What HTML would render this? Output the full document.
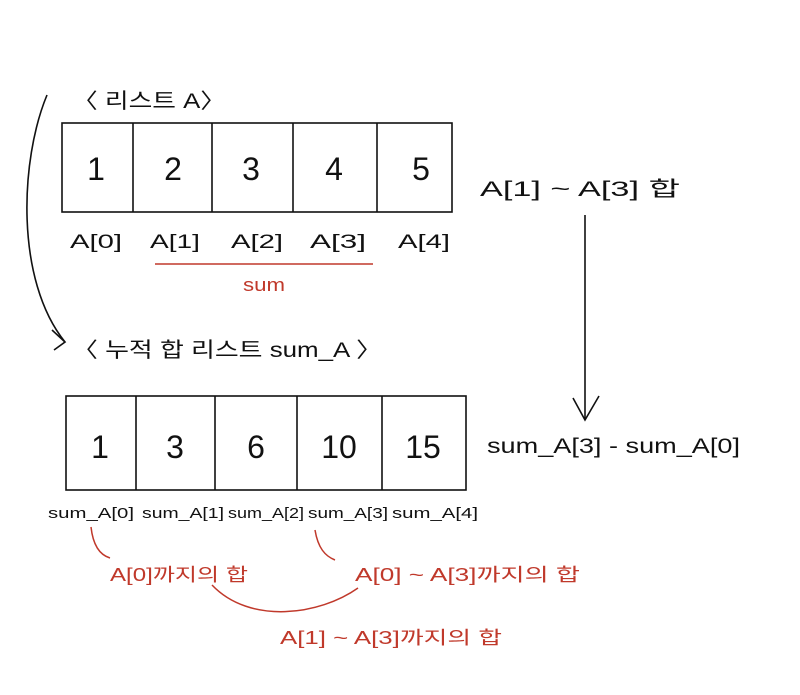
<!DOCTYPE html>
<html><head><meta charset="utf-8"><style>
html,body{margin:0;padding:0;background:#fff;}
svg{display:block;}
text{font-family:"Liberation Sans","Noto Sans CJK KR",sans-serif;}
</style></head><body>
<svg width="800" height="695" viewBox="0 0 800 695" xmlns="http://www.w3.org/2000/svg">
<g fill="none" stroke="#111" stroke-width="1.6">
<rect x="62" y="123" width="390" height="89"/>
<line x1="133" y1="123" x2="133" y2="212"/>
<line x1="212" y1="123" x2="212" y2="212"/>
<line x1="293" y1="123" x2="293" y2="212"/>
<line x1="377" y1="123" x2="377" y2="212"/>
<rect x="66" y="396" width="400" height="94"/>
<line x1="136" y1="396" x2="136" y2="490"/>
<line x1="215" y1="396" x2="215" y2="490"/>
<line x1="297" y1="396" x2="297" y2="490"/>
<line x1="382" y1="396" x2="382" y2="490"/>
<line x1="585" y1="215" x2="585" y2="420"/>
<polyline points="573,398 585,420 599,396"/>
<path d="M47,95 C20,160 15,280 65,342"/>
<polyline points="52,330 65,342 54,350"/>
</g>
<g fill="#111" font-size="32" text-anchor="middle">
<text x="96" y="180">1</text><text x="173" y="180">2</text><text x="251" y="180">3</text><text x="334" y="180">4</text><text x="421" y="180">5</text>
<text x="100" y="458">1</text><text x="175" y="458">3</text><text x="256" y="458">6</text><text x="339" y="458">10</text><text x="423" y="458">15</text>
</g>
<g fill="#111" font-size="19">
<text x="70" y="248" textLength="52" lengthAdjust="spacingAndGlyphs">A[0]</text>
<text x="150" y="248" textLength="50" lengthAdjust="spacingAndGlyphs">A[1]</text>
<text x="231" y="248" textLength="52" lengthAdjust="spacingAndGlyphs">A[2]</text>
<text x="310" y="248" textLength="56" lengthAdjust="spacingAndGlyphs">A[3]</text>
<text x="398" y="248" textLength="52" lengthAdjust="spacingAndGlyphs">A[4]</text>
</g>
<g fill="#111" font-size="15">
<text x="48" y="518" textLength="86" lengthAdjust="spacingAndGlyphs">sum_A[0]</text>
<text x="142" y="518" textLength="82" lengthAdjust="spacingAndGlyphs">sum_A[1]</text>
<text x="228" y="518" textLength="76" lengthAdjust="spacingAndGlyphs">sum_A[2]</text>
<text x="308" y="518" textLength="80" lengthAdjust="spacingAndGlyphs">sum_A[3]</text>
<text x="392" y="518" textLength="86" lengthAdjust="spacingAndGlyphs">sum_A[4]</text>
</g>
<g fill="#111" font-size="21">
<text x="72" y="108" textLength="154" lengthAdjust="spacingAndGlyphs">〈 리스트  A〉</text>
<text x="480" y="196" textLength="200" lengthAdjust="spacingAndGlyphs">A[1] ~ A[3]  합</text>
<text x="72" y="357" textLength="310" lengthAdjust="spacingAndGlyphs">〈 누적  합  리스트  sum_A 〉</text>
<text x="487" y="453" textLength="253" lengthAdjust="spacingAndGlyphs">sum_A[3] - sum_A[0]</text>
</g>
<line x1="155" y1="264" x2="373" y2="264" stroke="#c0392b" stroke-width="1.6"/>
<g fill="none" stroke="#c0392b" stroke-width="1.5">
<path d="M91,527 C93,545 100,555 110,558"/>
<path d="M315,530 C318,548 325,556 335,560"/>
<path d="M212,585 C250,625 320,615 358,588"/>
</g>
<g fill="#c0392b" font-size="18">
<text x="243" y="291" textLength="42" lengthAdjust="spacingAndGlyphs">sum</text>
<text x="110" y="581" textLength="138" lengthAdjust="spacingAndGlyphs">A[0]까지의  합</text>
<text x="355" y="581" textLength="225" lengthAdjust="spacingAndGlyphs">A[0] ~ A[3]까지의  합</text>
<text x="280" y="644" textLength="222" lengthAdjust="spacingAndGlyphs">A[1] ~ A[3]까지의  합</text>
</g>
</svg>
</body></html>
